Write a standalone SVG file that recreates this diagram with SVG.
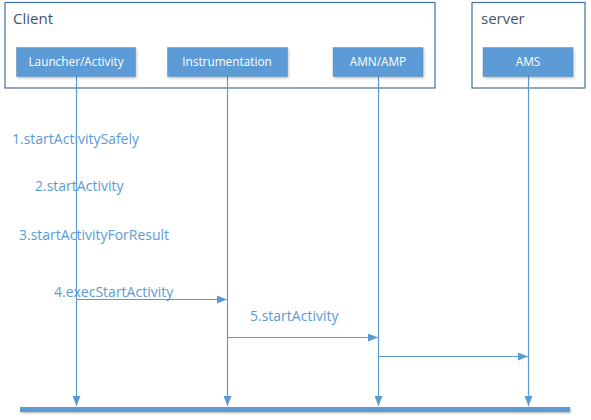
<svg xmlns="http://www.w3.org/2000/svg" width="591" height="420" viewBox="0 0 591 420">
<style>
.frame{fill:#fff;stroke:#41719c;stroke-width:1.2}
.ftitle{font-family:"Open Sans","Noto Sans",sans-serif;font-size:15px;fill:#44546a}
.node rect{fill:#5b9bd5;stroke:#41719c;stroke-width:0.8;stroke-opacity:0.4}
.node text{font-family:"Open Sans","Noto Sans",sans-serif;font-size:11.8px;fill:#fff;text-anchor:middle}
.life{stroke:#5b9bd5;stroke-width:1.2;fill:none}
.lbl{font-family:"Open Sans","Noto Sans",sans-serif;font-size:14px;fill:#5b9bd5}
</style>
<defs>
<marker id="ah" markerWidth="10" markerHeight="8" refX="10" refY="4" orient="auto" markerUnits="userSpaceOnUse">
<path d="M0,0 L10,4 L0,8 Z" fill="#5b9bd5"/>
</marker>
<filter id="sh" x="-10%" y="-10%" width="130%" height="140%">
<feDropShadow dx="1" dy="1.5" stdDeviation="1" flood-color="#000" flood-opacity="0.25"/>
</filter>
</defs>
<rect width="591" height="420" fill="#fff"/>
<g id="client">
<rect class="frame" x="5" y="2.5" width="430" height="85.5"/>
<text class="ftitle" x="13" y="24">Client</text>
</g>
<g id="server">
<rect class="frame" x="472" y="2.5" width="113" height="85.5"/>
<text class="ftitle" x="481" y="24">server</text>
</g>
<g id="connectors">
<line class="life" x1="76.5" y1="76" x2="76.5" y2="406" marker-end="url(#ah)"/>
<line class="life" x1="227.5" y1="76" x2="227.5" y2="406" marker-end="url(#ah)"/>
<line class="life" x1="378.5" y1="76" x2="378.5" y2="406" marker-end="url(#ah)" stroke="#9dc3e6"/>
<line class="life" x1="528.5" y1="76" x2="528.5" y2="406" marker-end="url(#ah)"/>
<line class="life" x1="76.5" y1="299.5" x2="227" y2="299.5" marker-end="url(#ah)"/>
<line class="life" x1="227.5" y1="337.5" x2="378" y2="337.5" marker-end="url(#ah)"/>
<line class="life" x1="378.5" y1="356.5" x2="528" y2="356.5" marker-end="url(#ah)" stroke="#9dc3e6"/>
<text class="lbl" x="12" y="144">1.startActivitySafely</text>
<text class="lbl" x="35" y="191">2.startActivity</text>
<text class="lbl" x="19" y="240">3.startActivityForResult</text>
<text class="lbl" x="54" y="297">4.execStartActivity</text>
<text class="lbl" x="250" y="321">5.startActivity</text>
</g>
<g id="launcher" class="node"><rect x="16.5" y="47.5" width="119" height="29" filter="url(#sh)"/><text x="76" y="66">Launcher/Activity</text></g>
<g id="instrumentation" class="node"><rect x="167.5" y="47.5" width="120" height="29" filter="url(#sh)"/><text x="227" y="66">Instrumentation</text></g>
<g id="amn" class="node"><rect x="333" y="47.5" width="90" height="29" filter="url(#sh)"/><text x="378" y="66">AMN/AMP</text></g>
<g id="ams" class="node"><rect x="483" y="47.5" width="90" height="29" filter="url(#sh)"/><text x="528" y="66">AMS</text></g>
<g id="bar"><rect x="20" y="407" width="550" height="5" fill="#5b9bd5" filter="url(#sh)"/></g>
</svg>
